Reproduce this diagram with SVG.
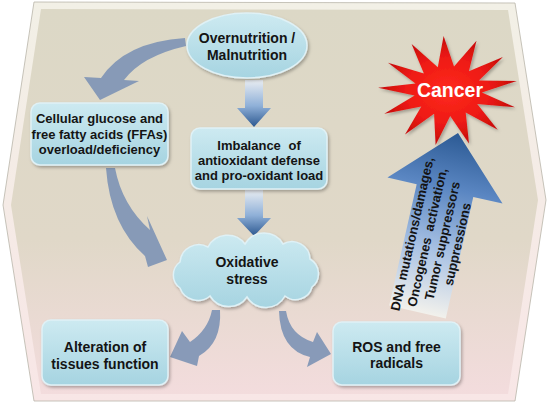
<svg xmlns="http://www.w3.org/2000/svg" width="550" height="405" viewBox="0 0 550 405">
<defs>
<style>
.t{font-family:"Liberation Sans",Arial,sans-serif;font-weight:bold;fill:#141414;text-anchor:middle;}
.f13{font-size:13px;}
.f14{font-size:14px;}
.box{fill:url(#boxg);stroke:#dff1f6;stroke-width:1.5;filter:url(#sh);}
.curv{fill:#7f95b5;fill-opacity:0.92;}
.sarr{fill:url(#sg);}
</style>
<linearGradient id="bg" x1="0" y1="0" x2="0" y2="1">
<stop offset="0" stop-color="#dcd8c6"/>
<stop offset="0.6" stop-color="#e0d8c8"/>
<stop offset="1" stop-color="#f3dcdd"/>
</linearGradient>
<linearGradient id="bevel" x1="0" y1="0" x2="0" y2="1">
<stop offset="0" stop-color="#f2f0e6"/>
<stop offset="1" stop-color="#f8e6e6"/>
</linearGradient>
<linearGradient id="boxg" x1="0" y1="0" x2="0" y2="1">
<stop offset="0" stop-color="#cdeaf1"/>
<stop offset="1" stop-color="#a6d4e1"/>
</linearGradient>
<linearGradient id="sg" x1="0" y1="0" x2="0" y2="1">
<stop offset="0" stop-color="#e9edf2"/>
<stop offset="0.55" stop-color="#8fb0d8"/>
<stop offset="1" stop-color="#2c5890"/>
</linearGradient>
<radialGradient id="redg" cx="0.5" cy="0.5" r="0.5">
<stop offset="0" stop-color="#ff2a1e"/>
<stop offset="0.6" stop-color="#ee1a14"/>
<stop offset="1" stop-color="#c40c0c"/>
</radialGradient>
<linearGradient id="bigg" gradientUnits="userSpaceOnUse" x1="0" y1="0" x2="0" y2="-183">
<stop offset="0" stop-color="#f2f1ec"/>
<stop offset="0.35" stop-color="#a9c2e4"/>
<stop offset="0.7" stop-color="#5a86c2"/>
<stop offset="1" stop-color="#2c5a94"/>
</linearGradient>
<filter id="sh" x="-20%" y="-20%" width="140%" height="150%">
<feDropShadow dx="1.5" dy="2" stdDeviation="1.5" flood-color="#000" flood-opacity="0.28"/>
</filter>
</defs>

<g id="background">
<polygon points="34,2 515,3 546,200 515,401 34,401 3,205" fill="url(#bevel)" stroke="#b9b5aa" stroke-width="0.8"/>
<polygon points="41,9 508,10 538,200 508,394 41,394 11,205" fill="url(#bg)"/>
</g>

<g id="connectors">
<path class="curv" d="M185,38 Q125,42 101,78 L84,77 L100,100 L139,81 L124,80 Q142,56 186,46 Z"/>
<path class="curv" d="M106,168 L115,168 Q122,205 150,230 L147,216 L167,260 L148,267 L145,256 Q110,225 106,168 Z"/>
<path class="curv" d="M212,310 L220,310 Q222,343 199,356 L197,366 L170,357 L182,331 L190,342 Q208,330 212,310 Z"/>
<path class="curv" d="M279,311 L286,311 Q290,335 313,342 L317,332 L331,354 L307,367 L310,357 Q280,350 279,311 Z"/>
<path class="sarr" d="M245,80 L263,80 L263,108 L271,108 L254,127 L237,108 L245,108 Z"/>
<path class="sarr" d="M245,190 L263,190 L263,218 L271,218 L254,236 L237,218 L245,218 Z"/>
</g>

<g id="n_over">
<ellipse cx="247" cy="45.5" rx="60" ry="32.5" class="box"/>
<text class="t f14" x="247" y="43">Overnutrition /</text>
<text class="t f14" x="247" y="60">Malnutrition</text>
</g>

<g id="n_cell">
<rect x="31" y="103" width="137" height="62" rx="9" class="box"/>
<text class="t f13" x="99.5" y="123">Cellular glucose and</text>
<text class="t f13" x="99.5" y="138.5">free fatty acids (FFAs)</text>
<text class="t f13" x="99.5" y="154">overload/deficiency</text>
</g>

<g id="n_imb">
<rect x="191" y="128" width="136" height="61" rx="9" class="box"/>
<text class="t f13" x="259" y="150" word-spacing="4">Imbalance of</text>
<text class="t f13" x="259" y="165">antioxidant defense</text>
<text class="t f13" x="259" y="179.5">and pro-oxidant load</text>
</g>

<g id="n_ox">
<path class="box" d="M180,288 A16,16 0 0 1 180,262 A19,19 0 0 1 208,247 A22,22 0 0 1 245,244 A22,22 0 0 1 283,244 A18,18 0 0 1 310,259 A17,17 0 0 1 312,287 A17,17 0 0 1 285,296 A22,22 0 0 1 247,297 A22,22 0 0 1 210,296 A19,19 0 0 1 180,288 Z"/>
<text class="t f14" x="247" y="267">Oxidative</text>
<text class="t f14" x="247" y="284">stress</text>
</g>

<g id="n_alt">
<rect x="42" y="320" width="126" height="65" rx="9" class="box"/>
<text class="t f14" x="105" y="352">Alteration of</text>
<text class="t f14" x="105" y="369">tissues function</text>
</g>

<g id="n_ros">
<rect x="333" y="322" width="127" height="63" rx="9" class="box"/>
<text class="t f14" x="396.5" y="352">ROS and free</text>
<text class="t f14" x="396.5" y="368">radicals</text>
</g>

<g id="n_arrow" transform="translate(417.5,312) rotate(12.75)">
<polygon points="-29,0 -29,-124.5 -59,-124.5 0,-183.5 59,-124.5 29,-124.5 29,0" fill="url(#bigg)"/>
<g transform="rotate(-90)">
<text class="t f13" x="75" y="-18">DNA mutations/damages,</text>
<text class="t f13" x="75" y="-2.5" word-spacing="3">Oncogenes activation,</text>
<text class="t f13" x="75" y="13">Tumor suppressors</text>
<text class="t f13" x="75" y="28.5">suppressions</text>
</g>
</g>

<g id="n_cancer">
<polygon filter="url(#sh)" fill="url(#redg)" points="476.5,40.8 468.9,71.3 502.9,56.9 478.9,80.6 516.8,80.9 481.9,92.4 514.9,107.2 477.2,103.9 497.7,129.8 465.7,112.4 469,143.5 450.2,116 435.6,145.1 434.1,113.8 405,134.4 421.3,106.5 384.3,113.7 414.6,95.6 378.1,87.8 415.5,83.6 388,62.7 423.9,73.4 411.6,44 437.8,67.2 443.6,36.1 454,66.4"/>
<text class="t" x="450" y="97" style="font-size:19.5px;fill:#ffffff">Cancer</text>
</g>
</svg>
